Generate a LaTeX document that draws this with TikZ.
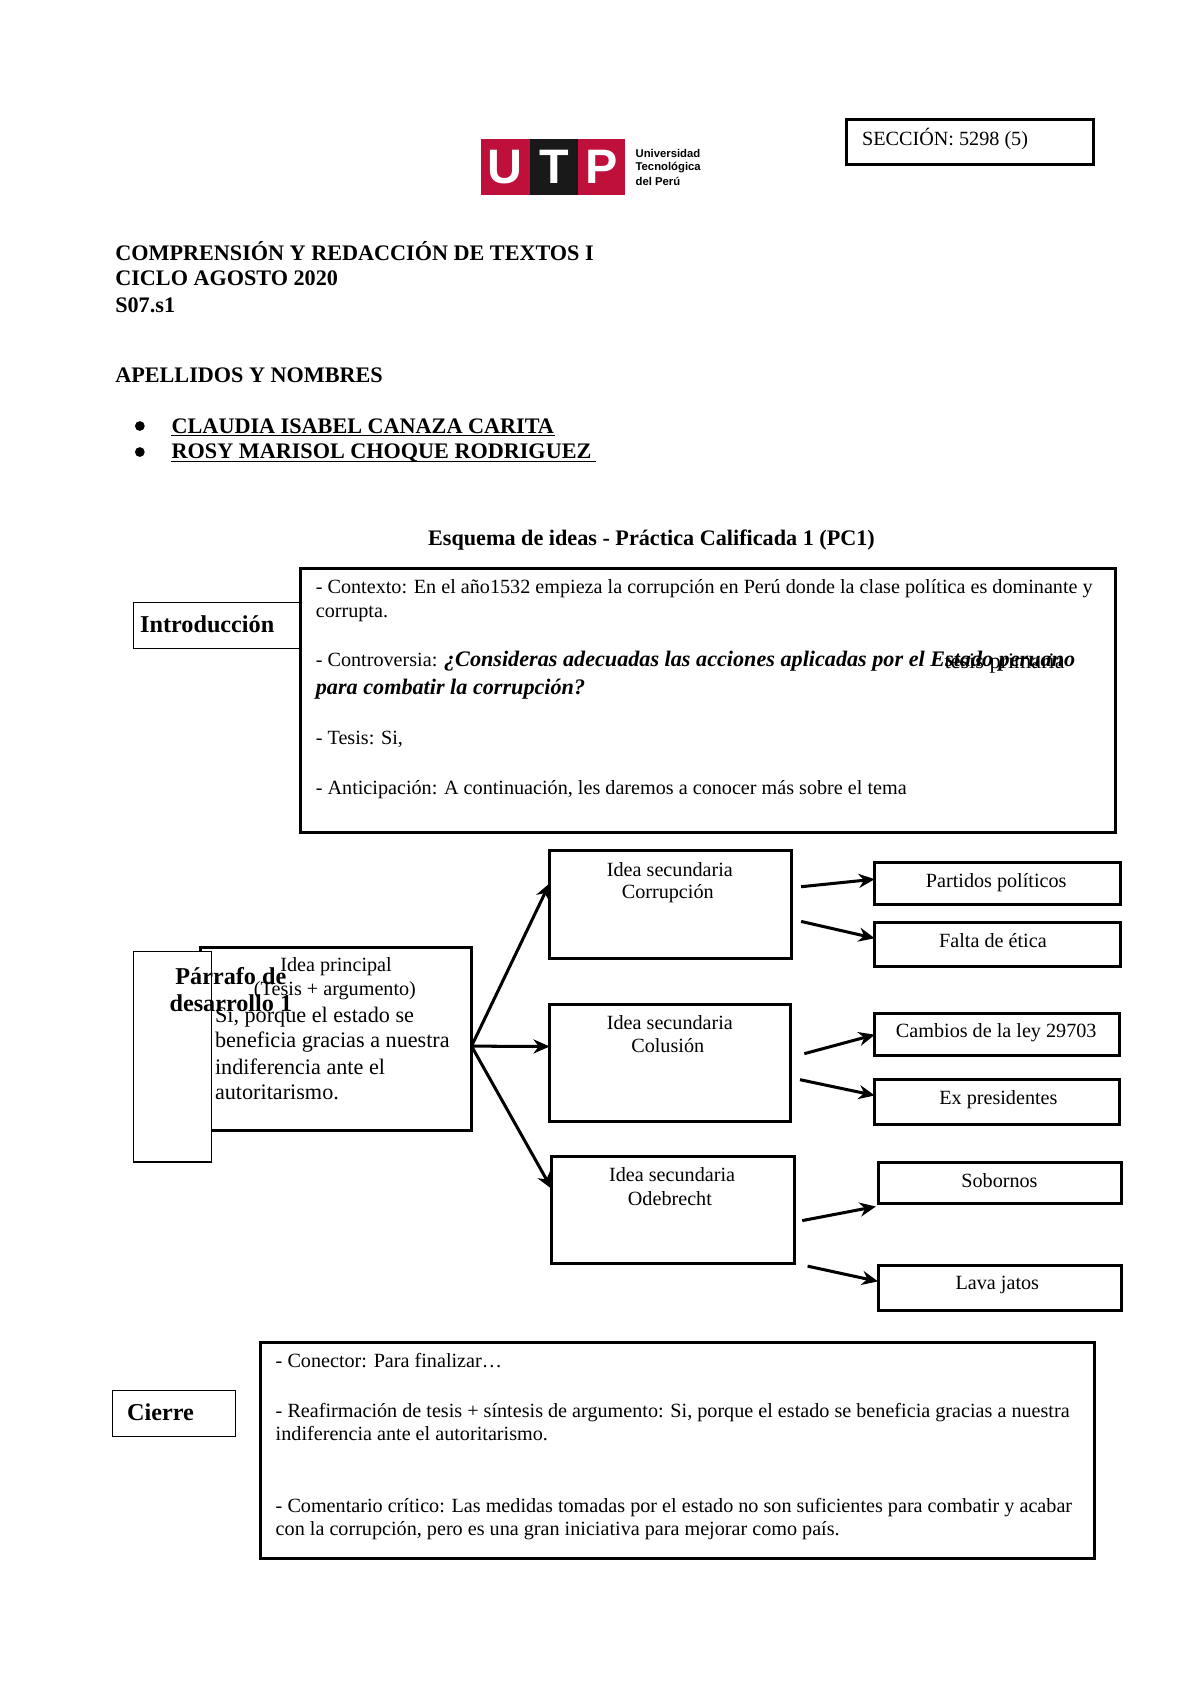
\documentclass[tikz,border=0pt]{standalone}
\usepackage{fontspec}
\setmainfont{Liberation Serif}
\setsansfont{Liberation Sans}
\usetikzlibrary{arrows.meta}
\definecolor{utprojo}{RGB}{190,16,58}
\tikzset{caja/.style={draw,line width=1.5pt,anchor=north west,inner sep=0pt,outer sep=0pt},
 rotulo/.style={draw,line width=.6pt,fill=white,anchor=north west,inner sep=0pt,outer sep=0pt},
 texto/.style={anchor=west,inner sep=0pt,font=\fontsize{10}{12}\selectfont},
 cuerpo/.style={anchor=west,inner sep=0pt,font=\fontsize{11}{12}\selectfont},
 centrado/.style={inner sep=0pt,font=\fontsize{10}{12}\selectfont},
 negrita/.style={anchor=west,inner sep=0pt,font=\fontsize{11}{12}\selectfont\bfseries},
 titular/.style={negrita,font=\fontsize{12}{12}\selectfont\bfseries},
 flecha/.style={line width=1.5pt,-{Stealth[length=8pt,width=7pt]}},
 letra/.style={text=white,font=\sffamily\bfseries\fontsize{24}{24}\selectfont},
 marca/.style={anchor=west,inner sep=0pt,font=\sffamily\bfseries\fontsize{5.6}{5.6}\selectfont},
}
\newcommand{\caja}[5]{\node [#1, minimum width=#4*.5375pt, minimum height=#5*.5375pt] (#2) at (#3) {};}
\begin{document}
\begin{tikzpicture}[x=.5375pt,y=-.5375pt]
        \useasboundingbox (0, 0) rectangle (1107, 1566.4);
        % cabecera
        \caja{caja}{seccion}{781, 110}{228}{42}
        \node [texto] (seccionT) at (795, 128) {SECCIÓN: 5298 (5)};
        \fill [utprojo] (444, 128) rectangle (489, 180);
        \fill [black!90] (489, 128) rectangle (533, 180);
        \fill [utprojo] (533, 128) rectangle (577, 180);
        \node [letra] (logoU) at (466, 154) {U};
        \node [letra] (logoT) at (511, 154) {T};
        \node [letra] (logoP) at (555, 154) {P};
        \node [marca] (logoA) at (586, 142) {Universidad};
        \node [marca] (logoB) at (586, 155) {Tecnológica};
        \node [marca] (logoC) at (586, 167) {del Perú};
        \node [negrita] (curso) at (106, 232) {COMPRENSIÓN Y REDACCIÓN DE TEXTOS I};
        \node [negrita] (ciclo) at (106, 257) {CICLO AGOSTO 2020};
        \node [negrita] (sesion) at (106, 282) {S07.s1};
        \node [negrita] (apellidos) at (106, 346) {APELLIDOS Y NOMBRES};
        \fill (129, 393) circle (4.5);
        \fill (129, 417) circle (4.5);
        \node [negrita] (alumnaA) at (158, 393) {CLAUDIA ISABEL CANAZA CARITA};
        \node [negrita] (alumnaB) at (158, 418) {ROSY MARISOL CHOQUE RODRIGUEZ};
        \coordinate (finA) at (512, 402);
        \coordinate (finB) at (550, 426);
        \draw [line width=.6pt] (158, 402) -- (finA);
        \draw [line width=.6pt] (158, 426) -- (finB);
        \node [centrado, font=\fontsize{11}{12}\selectfont\bfseries] (esquema) at (601, 498) {Esquema de ideas - Práctica Calificada 1 (PC1)};
        % introduccion
        \caja{caja}{intro}{277, 524}{752}{244}
        \caja{rotulo}{introR}{123, 556}{153}{42}
        \node [titular] (introT) at (129, 576) {Introducción};
        \node [texto] (contexto) at (291, 543) {- Contexto: En el año1532 empieza la corrupción en Perú donde la clase política es dominante y};
        \node [texto] (contextoB) at (291, 566) {corrupta.};
        \node [texto] (controversia) at (291, 610) {- Controversia: {\fontsize{11}{12}\selectfont\bfseries\itshape ¿Consideras adecuadas las acciones aplicadas por el Estado peruano}};
        \node [cuerpo] (tesisP) at (871, 612) {tesis primaria};
        \node [cuerpo, font=\fontsize{11}{12}\selectfont\bfseries\itshape] (controversiaB) at (291, 636) {para combatir la corrupción?};
        \node [texto] (tesis) at (291, 682) {- Tesis: Si,};
        \node [texto] (anticipa) at (291, 728) {- Anticipación: A continuación, les daremos a conocer más sobre el tema};
        % desarrollo
        \caja{caja}{ideaP}{185, 874}{250}{169}
        \caja{rotulo}{parrafoR}{123, 878}{72}{194}
        \node [centrado, font=\fontsize{12}{13}\selectfont\bfseries] (parrafoA) at (213, 900) {Párrafo de};
        \node [centrado, font=\fontsize{12}{13}\selectfont\bfseries] (parrafoB) at (213, 925) {desarrollo 1};
        \node [centrado] (ideaA) at (310, 892) {Idea principal};
        \node [centrado] (ideaB) at (309, 914) {(Tesis + argumento)};
        \node [cuerpo] (cuerpoA) at (198, 938) {Si, porque el estado se};
        \node [cuerpo] (cuerpoB) at (198, 961) {beneficia gracias a nuestra};
        \node [cuerpo] (cuerpoC) at (198, 984) {indiferencia ante el};
        \node [cuerpo] (cuerpoD) at (198, 1008) {autoritarismo.};
        \caja{caja}{secA}{507, 785}{223}{99}
        \caja{caja}{secB}{507, 927}{222}{108}
        \caja{caja}{secC}{509, 1067}{224}{99}
        \node [centrado] (secAa) at (618, 802) {Idea secundaria};
        \node [centrado] (secAb) at (616, 824) {Corrupción};
        \node [centrado] (secBa) at (618, 943) {Idea secundaria};
        \node [centrado] (secBb) at (616, 965) {Colusión};
        \node [centrado] (secCa) at (620, 1084) {Idea secundaria};
        \node [centrado] (secCb) at (618, 1106) {Odebrecht};
        \caja{caja}{partidos}{807, 796}{227}{38}
        \caja{caja}{falta}{807, 851}{227}{41}
        \caja{caja}{cambios}{807, 935}{226}{39}
        \caja{caja}{expres}{807, 996}{226}{41}
        \caja{caja}{sobornos}{810, 1072}{225}{38}
        \caja{caja}{lava}{810, 1167}{225}{42}
        \node [centrado] (partidosT) at (919, 814) {Partidos políticos};
        \node [centrado] (faltaT) at (916, 868) {Falta de ética};
        \node [centrado] (cambiosT) at (919, 953) {Cambios de la ley 29703};
        \node [centrado] (expresT) at (921, 1014) {Ex presidentes};
        \node [centrado] (sobornosT) at (922, 1089) {Sobornos};
        \node [centrado] (lavaT) at (920, 1185) {Lava jatos};
        \draw [flecha] (ideaP.357) -- (secA.170);
        \draw [flecha] (ideaP.357) -- (secB.172);
        \draw [flecha] (ideaP.357) -- (secC.170);
        \coordinate (salA) at (739, 818);
        \coordinate (salB) at (739, 850);
        \coordinate (salC) at (742, 972);
        \coordinate (salD) at (738, 996);
        \coordinate (salE) at (740, 1126);
        \coordinate (salF) at (745, 1168);
        \coordinate (llegaE) at (808, 1113);
        \draw [flecha] (salA) -- (partidos.178);
        \draw [flecha] (salB) -- (falta.177);
        \draw [flecha] (salC) -- (cambios.west);
        \draw [flecha] (salD) -- (expres.177);
        \draw [flecha] (salE) -- (llegaE);
        \draw [flecha] (salF) -- (lava.177);
        % cierre
        \caja{caja}{cierre}{240, 1238}{770}{200}
        \caja{rotulo}{cierreR}{104, 1283}{113}{42}
        \node [titular] (cierreT) at (117, 1303) {Cierre};
        \node [texto] (conector) at (254, 1255) {- Conector: Para finalizar…};
        \node [texto] (reafirma) at (254, 1303) {- Reafirmación de tesis + síntesis de argumento: Si, porque el estado se beneficia gracias a nuestra};
        \node [texto] (reafirmaB) at (254, 1322) {indiferencia ante el autoritarismo.};
        \node [texto] (comentario) at (254, 1391) {- Comentario crítico: Las medidas tomadas por el estado no son suficientes para combatir y acabar};
        \node [texto] (comentarioB) at (254, 1412) {con la corrupción, pero es una gran iniciativa para mejorar como país.};
    \end{tikzpicture}
\end{document}
